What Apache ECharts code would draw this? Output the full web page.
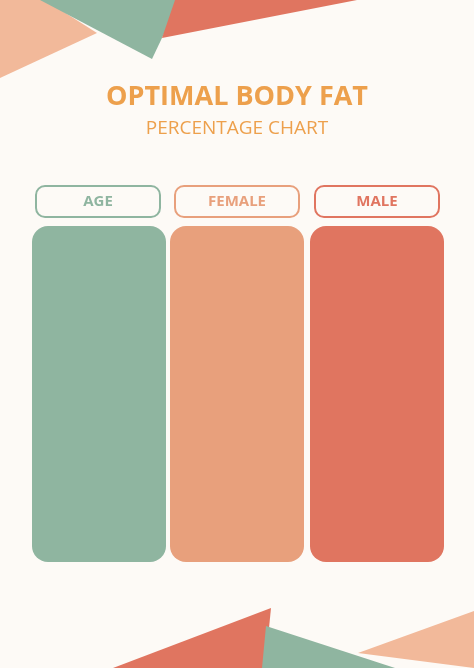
<!DOCTYPE html><html><head><meta charset="utf-8"><script src="https://cdn.jsdelivr.net/npm/echarts@6/dist/echarts.min.js"></script>
<style>html,body{margin:0;background:#fdfaf6}#c{width:474px;height:668px}</style></head><body><div id="c"></div><script>
const columns=['AGE','FEMALE','MALE'];
const ages=['18 to 20','21 to 25','26 to 30','31 to 35','36 to 40','41 to 45','46 to 50','51 to 55','56 and above'];
const female=['18% to 23%','19% to 24%','21% to 25%','21% to 26%','22% to 27%','23% to 28%','24% to 30%','26% to 31%','27% to 32%'];
const male=['8% to 14%','10% to15','11% to 16%','13% to 17%','15% to 20%','16% to 22%','17% to 23%','20% to 25%','26% to 31%'];
const colors=['#8fb5a0','#e8a07c','#e07560'];
const F='"Open Sans",sans-serif';
const ch=echarts.init(document.getElementById('c'));
const g=[];
const poly=(pts,c)=>g.push({type:'polygon',shape:{points:pts},style:{fill:c},z:-1});
poly([[0,0],[45,0],[97,33],[0,78]],'#f2b99a');
poly([[40,0],[180,0],[152,59]],'#8fb5a0');
poly([[175,0],[357,0],[162,38]],'#e07560');
poly([[113,668],[271,608],[265,668]],'#e07560');
poly([[266,626],[395,668],[262,668]],'#8fb5a0');
poly([[358,653],[474,611],[474,668]],'#f2b99a');
g.push({type:'text',left:'center',top:84,style:{text:'OPTIMAL BODY FAT',font:'bold 27px '+F,fill:'#eda04c'}});
g.push({type:'text',left:'center',top:119,style:{text:'PERCENTAGE CHART',font:'19px '+F,fill:'#eda04c'}});
const bx=[36,175,315], px=[32,170,310];
columns.forEach((c,i)=>{
 g.push({type:'rect',shape:{x:bx[i],y:186,width:124,height:31,r:9},style:{fill:'none',stroke:colors[i],lineWidth:2}});
 g.push({type:'text',x:bx[i]+62,y:201.5,style:{text:c,font:'bold 15px '+F,fill:colors[i],align:'center',verticalAlign:'middle'}});
 g.push({type:'rect',shape:{x:px[i],y:226,width:134,height:336,r:16},style:{fill:colors[i]},z:0});
});
const mk=(arr,ci)=>({type:'scatter',symbolSize:1,itemStyle:{opacity:0},z:5,
 data:arr.map((t,j)=>({value:[ci,j],name:t})),
 label:{show:true,position:'inside',formatter:p=>p.name,color:'#fff',fontFamily:F,fontWeight:'bold',fontSize:10}});
ch.setOption({backgroundColor:'#fdfaf6',animation:false,graphic:g,
 grid:{left:29,right:27,top:239.5,bottom:128.5},
 xAxis:{type:'category',data:columns,show:false},
 yAxis:{type:'category',data:ages,inverse:true,show:false},
 series:[mk(ages,0),mk(female,1),mk(male,2)]});
</script></body></html>
